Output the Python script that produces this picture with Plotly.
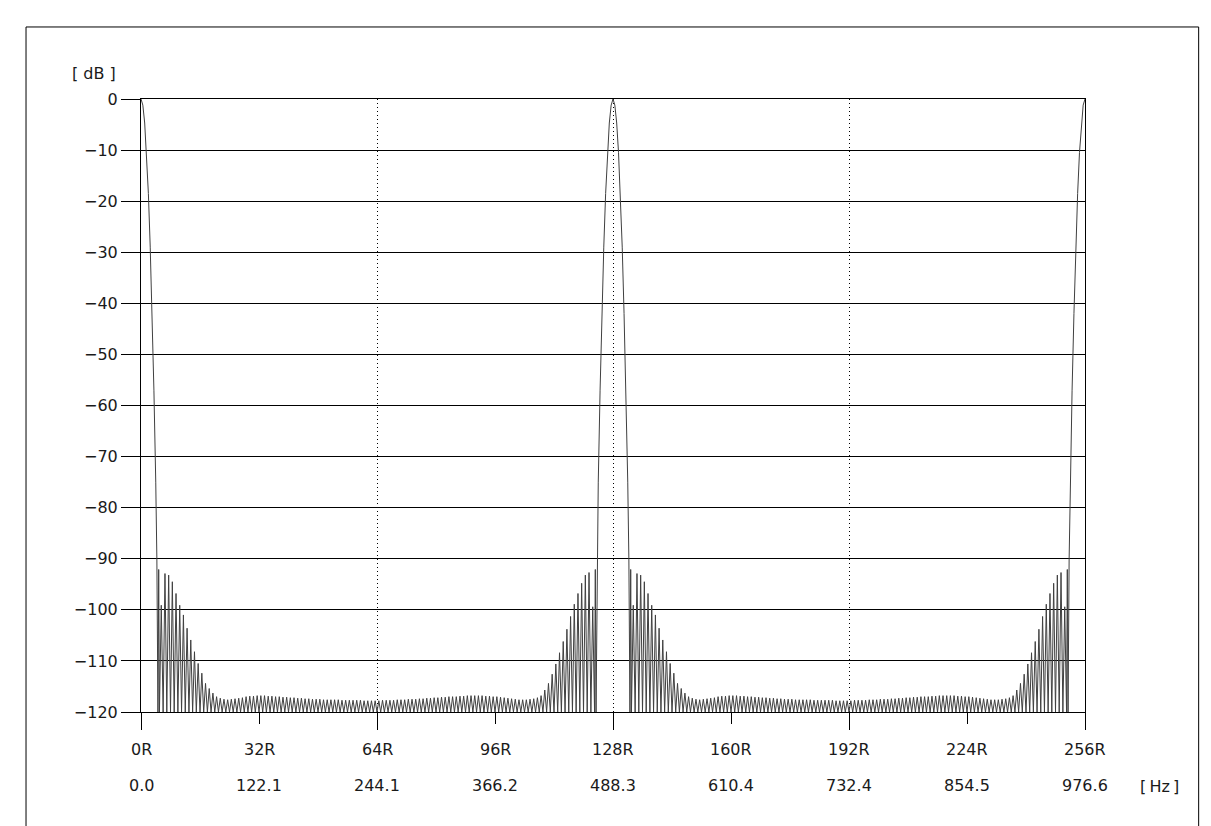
import plotly.graph_objects as go

# ---------------- data ----------------
# Magnitude response in dB, frequency in units of "R" (0..256 R  ->  0..976.6 Hz)
PERIOD_R = 128                     # response repeats every 128 R (lobes at 0, 128, 256 R)
NULL_DB = -120.0                   # display floor (nulls are clipped here)

# main lobe profile: offset from lobe centre (R) and level (dB)
MAIN_LOBE_OFFSET_R = [0.0, 0.5, 1.0, 1.5, 2.0, 2.5, 3.0, 3.5, 4.0, 4.3, 4.6]
MAIN_LOBE_DB = [0.0, -1.2, -4.7, -10.5, -18.5, -29.0, -42.0, -57.0, -75.0, -90.0, -120.0]

# side-lobe peak levels just after a main lobe (first peak at 4.8 R, then every 1 R from 5.5 R)
SKIRT_FALL_DB = [-92.1, -99.1, -92.9, -93.2, -94.5, -96.8, -99.1, -101.0, -103.6,
                 -105.9, -108.2, -110.5, -112.4, -114.4, -115.4, -116.3, -117.0, -117.3]

# stop-band floor ripple peaks, 22.5 R .. 107.5 R (one per R)
FLOOR_DB = [
    -117.5, -117.6, -117.5, -117.4, -117.3, -117.2,
    -117.0, -116.9, -116.9, -116.8, -116.8, -116.8, -116.9, -116.9, -117.0, -117.0, -117.1, -117.1, -117.2,
    -117.2, -117.3, -117.3, -117.4, -117.4, -117.5, -117.5, -117.5, -117.6, -117.6,
    -117.6, -117.6, -117.6, -117.7, -117.7, -117.7, -117.7, -117.7, -117.7, -117.8, -117.8, -117.8,
    -117.8, -117.8, -117.7, -117.7, -117.7, -117.7, -117.6, -117.6, -117.6, -117.5, -117.5, -117.5, -117.4,
    -117.4, -117.3, -117.3, -117.2, -117.2, -117.1, -117.1, -117.0, -117.0, -117.0,
    -116.9, -116.9, -116.8, -116.8, -116.8, -116.8, -116.8, -116.9, -116.9, -117.0, -117.0, -117.1, -117.2,
    -117.3, -117.4, -117.5, -117.6, -117.6, -117.6, -117.5, -117.4, -117.2,
]

# side-lobe peak levels rising towards the next main lobe (108.5 R .. 122.5 R, last at 123.2 R)
SKIRT_RISE_DB = [-116.8, -115.7, -114.4, -112.6, -110.6, -108.4, -106.2, -103.8,
                 -101.3, -98.9, -96.8, -94.8, -93.2, -92.7, -99.4, -92.1]

Y_TICKS_DB = [0, -10, -20, -30, -40, -50, -60, -70, -80, -90, -100, -110, -120]
Y_TICK_TEXT = ["0" if v == 0 else "\u2212" + str(-v) for v in Y_TICKS_DB]

X_MAJOR_R = [0, 64, 128, 192, 256]
X_MINOR_R = [32, 96, 160, 224]
X_LABEL_POS_R = [0, 32, 64, 96, 128, 160, 192, 224, 256]
X_LABEL_R = ["0R", "32R", "64R", "96R", "128R", "160R", "192R", "224R", "256R"]
X_LABEL_HZ = ["0.0", "122.1", "244.1", "366.2", "488.3", "610.4", "732.4", "854.5", "976.6"]

# ---------------- build the curve ----------------
def one_period():
    pts = []
    # right half of main lobe
    for o, d in zip(MAIN_LOBE_OFFSET_R, MAIN_LOBE_DB):
        pts.append((o, d))
    # falling skirt
    first_peak = SKIRT_FALL_DB[0]
    pts.append((4.8, first_peak))
    pts.append((5.0, NULL_DB))
    pos = 5.5
    for v in SKIRT_FALL_DB[1:] + FLOOR_DB + SKIRT_RISE_DB[:-1]:
        pts.append((pos, v))
        pts.append((pos + 0.5, NULL_DB))
        pos += 1.0
    pts.append((PERIOD_R - 4.8, SKIRT_RISE_DB[-1]))
    # left half of next main lobe
    for o, d in reversed(list(zip(MAIN_LOBE_OFFSET_R, MAIN_LOBE_DB))):
        pts.append((PERIOD_R - o, d))
    return pts

xs, ys = [], []
for p in range(2):
    for x, y in one_period():
        xx = x + p * PERIOD_R
        if xs and abs(xs[-1] - xx) < 1e-9:
            continue
        xs.append(xx)
        ys.append(y)

FONT = dict(family="DejaVu Sans", size=16, color="#1a1a1a")

fig = go.Figure()
fig.add_trace(go.Scatter(x=xs, y=ys, mode="lines",
                         line=dict(color="#404040", width=1),
                         hoverinfo="skip", showlegend=False))

annotations = []
for pos, t1, t2 in zip(X_LABEL_POS_R, X_LABEL_R, X_LABEL_HZ):
    annotations.append(dict(x=pos, xref="x", y=0, yref="paper", text=t1, showarrow=False,
                            yshift=-37, yanchor="middle", xanchor="center", font=FONT))
    annotations.append(dict(x=pos, xref="x", y=0, yref="paper", text=t2, showarrow=False,
                            yshift=-73, yanchor="middle", xanchor="center", font=FONT))
annotations.append(dict(x=0, xref="paper", y=1, yref="paper", text="[ dB ]", showarrow=False,
                        xshift=-47, yshift=26, xanchor="center", yanchor="middle", font=FONT))
annotations.append(dict(x=1, xref="paper", y=0, yref="paper", text="[\u2009Hz\u2009]", showarrow=False,
                        xshift=74, yshift=-74, xanchor="center", yanchor="middle", font=FONT))

fig.update_layout(
    width=1211, height=826,
    margin=dict(l=141, r=126, t=99, b=114, pad=0),
    paper_bgcolor="white", plot_bgcolor="white",
    showlegend=False,
    annotations=annotations,
    shapes=[dict(type="rect", xref="paper", yref="paper",
                 x0=-0.1218, x1=1.1204, y0=-0.21, y1=1.1175,
                 line=dict(color="black", width=1), fillcolor="rgba(0,0,0,0)", layer="below")],
    xaxis=dict(range=[0, 256], tickmode="array", tickvals=X_MAJOR_R, showticklabels=False,
               ticks="outside", ticklen=17, tickwidth=1, tickcolor="black",
               showgrid=True, gridcolor="black", gridwidth=1, griddash="1px,3px",
               showline=True, linecolor="black", linewidth=1, mirror=True, zeroline=False,
               minor=dict(tickmode="array", tickvals=X_MINOR_R, ticks="outside", ticklen=11,
                          tickwidth=1, tickcolor="black", showgrid=False)),
    yaxis=dict(range=[-120, 0], tickmode="array", tickvals=Y_TICKS_DB, ticktext=Y_TICK_TEXT,
               ticks="outside", ticklen=19, tickwidth=1, tickcolor="black", tickfont=FONT,
               showgrid=True, gridcolor="black", gridwidth=1,
               showline=True, linecolor="black", linewidth=1, mirror=True, zeroline=False),
)

fig.write_html("out.html", config={"displayModeBar": False},
               post_script="document.body.style.margin='0';document.body.style.overflow='hidden';")
